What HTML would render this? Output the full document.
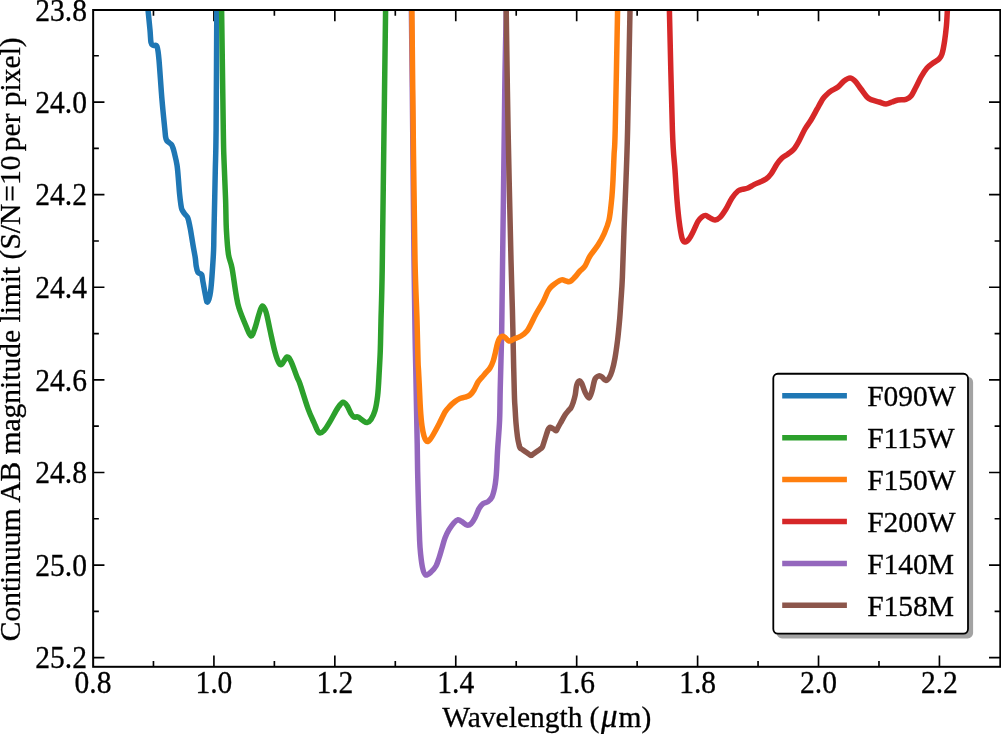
<!DOCTYPE html>
<html><head><meta charset="utf-8"><title>Continuum sensitivity</title>
<style>html,body{margin:0;padding:0;background:#fff;overflow:hidden}svg{display:block}text{font-family:"Liberation Serif","Times New Roman",serif;font-size:29.5px;fill:#000;stroke:#000;stroke-width:0.3px}</style></head><body>
<svg width="1001" height="734" viewBox="0 0 1001 734">
<rect width="1001" height="734" fill="#fff"/>
<defs><clipPath id="ax"><rect x="93.15" y="10.00" width="907.15" height="656.80"/></clipPath></defs>
<path d="M153.46 666.80v-5.70M153.46 10.00v5.70M213.92 666.80v-11.30M213.92 10.00v11.30M274.38 666.80v-5.70M274.38 10.00v5.70M334.84 666.80v-11.30M334.84 10.00v11.30M395.30 666.80v-5.70M395.30 10.00v5.70M455.76 666.80v-11.30M455.76 10.00v11.30M516.22 666.80v-5.70M516.22 10.00v5.70M576.68 666.80v-11.30M576.68 10.00v11.30M637.14 666.80v-5.70M637.14 10.00v5.70M697.60 666.80v-11.30M697.60 10.00v11.30M758.06 666.80v-5.70M758.06 10.00v5.70M818.52 666.80v-11.30M818.52 10.00v11.30M878.98 666.80v-5.70M878.98 10.00v5.70M939.44 666.80v-11.30M939.44 10.00v11.30M93.15 55.77h5.70M1000.30 55.77h-5.70M93.15 102.07h11.30M1000.30 102.07h-11.30M93.15 148.37h5.70M1000.30 148.37h-5.70M93.15 194.67h11.30M1000.30 194.67h-11.30M93.15 240.97h5.70M1000.30 240.97h-5.70M93.15 287.27h11.30M1000.30 287.27h-11.30M93.15 333.57h5.70M1000.30 333.57h-5.70M93.15 379.87h11.30M1000.30 379.87h-11.30M93.15 426.17h5.70M1000.30 426.17h-5.70M93.15 472.47h11.30M1000.30 472.47h-11.30M93.15 518.77h5.70M1000.30 518.77h-5.70M93.15 565.07h11.30M1000.30 565.07h-11.30M93.15 611.37h5.70M1000.30 611.37h-5.70M93.15 657.67h11.30M1000.30 657.67h-11.30" stroke="#000" stroke-width="1.65" fill="none"/>
<g clip-path="url(#ax)" fill="none" stroke-width="5.5" stroke-linejoin="round" stroke-linecap="square">
<path stroke="#9467bd" d="M411.1 -20.0C411.1 -15.0 411.1 -15.0 411.4 10.0C411.7 35.0 412.3 88.3 412.7 130.0C413.1 171.7 413.6 226.7 414.0 260.0C414.4 293.3 414.7 311.7 415.0 330.0C415.3 348.3 415.4 351.2 415.8 370.0C416.1 388.8 416.9 426.3 417.2 443.0C417.5 459.7 417.4 458.8 417.6 470.0C417.8 481.2 418.3 498.3 418.6 510.0C418.9 521.7 419.3 532.7 419.6 540.0C419.9 547.3 420.1 549.3 420.6 554.0C421.1 558.7 421.8 564.5 422.6 568.0C423.4 571.5 424.2 574.3 425.6 575.0C427.0 575.7 429.3 573.5 431.0 572.0C432.7 570.5 434.7 568.3 436.0 566.0C437.3 563.7 438.0 561.0 439.0 558.0C440.0 555.0 441.0 551.3 442.0 548.0C443.0 544.7 443.8 541.0 445.0 538.0C446.2 535.0 447.5 532.2 449.0 529.7C450.5 527.2 452.5 524.4 454.0 522.7C455.5 521.0 456.7 519.9 458.0 519.7C459.3 519.5 460.5 520.8 462.0 521.7C463.5 522.6 465.5 524.8 467.0 525.1C468.5 525.4 469.7 524.9 471.0 523.7C472.3 522.5 473.7 520.2 475.0 517.7C476.3 515.2 477.7 511.0 479.0 508.7C480.3 506.4 481.5 504.9 483.0 503.7C484.5 502.5 486.5 502.7 488.0 501.6C489.5 500.5 490.9 499.3 492.0 497.0C493.1 494.7 493.9 491.2 494.6 488.0C495.3 484.8 495.7 481.0 496.0 478.0C496.3 475.0 496.3 474.7 496.6 470.0C496.9 465.3 497.1 458.3 497.6 450.0C498.1 441.7 499.2 430.0 499.6 420.0C500.0 410.0 499.9 404.0 500.2 390.0C500.5 376.0 501.2 357.7 501.6 336.0C502.0 314.3 502.2 294.3 502.6 260.0C503.1 225.7 503.9 161.2 504.3 130.0C504.7 98.8 504.7 93.0 505.0 73.0C505.3 53.0 506.0 25.5 506.3 10.0C506.6 -5.5 506.8 -15.0 506.9 -20.0"/>
<path stroke="#8c564b" d="M505.7 -20.0C505.8 -15.0 505.8 -15.0 506.2 10.0C506.6 35.0 507.3 88.3 508.1 130.0C508.9 171.7 510.3 230.0 511.0 260.0C511.7 290.0 512.0 295.0 512.4 310.0C512.8 325.0 513.0 335.8 513.3 350.0C513.6 364.2 514.1 385.5 514.4 395.0C514.7 404.5 514.7 402.3 515.0 407.0C515.3 411.7 515.6 418.0 516.0 423.0C516.4 428.0 517.0 433.2 517.5 437.0C518.0 440.8 518.8 443.7 519.2 445.5C519.7 447.3 519.6 447.2 520.2 448.0C520.8 448.8 521.9 449.2 523.0 450.0C524.1 450.8 525.8 452.0 527.0 452.8C528.2 453.6 529.3 454.5 530.0 454.9C530.7 455.3 530.7 455.5 531.2 455.4C531.7 455.3 531.7 455.1 533.0 454.2C534.3 453.3 537.6 451.0 539.0 450.0C540.4 449.0 541.0 448.6 541.6 448.0C542.2 447.4 542.0 448.0 542.6 446.5C543.2 445.0 544.1 441.8 545.0 439.0C545.9 436.2 547.3 431.7 548.0 429.8C548.7 427.9 548.9 428.2 549.3 427.8C549.7 427.4 549.9 427.1 550.6 427.3C551.3 427.5 552.7 428.5 553.5 429.0C554.3 429.5 554.9 430.1 555.4 430.4C555.9 430.7 556.0 431.1 556.4 430.6C556.8 430.1 557.3 428.8 558.0 427.5C558.7 426.2 559.3 425.1 560.5 423.0C561.7 420.9 563.6 417.2 565.0 415.0C566.4 412.8 568.0 411.2 569.0 410.0C570.0 408.8 570.1 409.2 570.8 408.0C571.5 406.8 572.3 405.2 573.0 403.0C573.7 400.8 574.6 398.0 575.2 395.0C575.8 392.0 576.0 387.5 576.7 385.2C577.4 382.9 578.5 381.4 579.3 381.0C580.1 380.6 580.6 381.2 581.6 383.0C582.6 384.8 583.8 389.5 585.0 392.0C586.2 394.5 587.8 398.2 589.0 398.0C590.2 397.8 591.0 394.2 592.0 391.0C593.0 387.8 593.8 381.5 595.0 379.0C596.2 376.5 597.8 376.1 599.0 375.8C600.2 375.5 600.9 376.2 602.0 377.0C603.1 377.8 604.4 380.2 605.6 380.4C606.8 380.6 607.9 379.6 609.0 378.0C610.1 376.4 611.0 374.3 612.0 371.0C613.0 367.7 614.1 363.2 615.0 358.0C615.9 352.8 616.8 346.3 617.6 340.0C618.4 333.7 619.0 326.7 619.6 320.0C620.2 313.3 620.5 307.2 621.0 300.0C621.5 292.8 621.9 288.7 622.4 277.0C622.9 265.3 623.4 246.2 624.0 230.0C624.6 213.8 625.4 196.7 626.0 180.0C626.6 163.3 626.9 158.3 627.6 130.0C628.3 101.7 629.5 35.0 630.0 10.0C630.5 -15.0 630.5 -15.0 630.6 -20.0"/>
<path stroke="#1f77b4" d="M145.1 -20.0C145.6 -15.1 147.2 1.3 148.0 9.6C148.8 17.9 149.5 24.5 150.0 30.0C150.5 35.5 150.5 40.0 151.0 42.5C151.5 45.0 152.2 44.6 153.2 45.3C154.2 46.0 156.0 44.1 157.0 46.6C158.0 49.1 158.2 51.1 159.0 60.0C159.8 68.9 161.0 88.3 162.0 100.0C163.0 111.7 164.3 123.8 164.9 130.0C165.5 136.2 165.3 135.2 165.6 137.0C165.9 138.8 166.2 139.7 166.8 140.6C167.4 141.5 168.4 142.0 169.2 142.7C170.0 143.4 171.0 143.9 171.6 144.8C172.2 145.7 172.5 146.6 173.0 148.0C173.5 149.4 173.8 150.7 174.5 153.5C175.2 156.3 176.3 160.5 177.0 165.0C177.7 169.5 178.1 175.7 178.5 180.5C178.9 185.3 179.2 190.0 179.6 194.0C180.0 198.0 180.5 202.2 180.9 204.7C181.3 207.2 181.2 207.7 181.8 209.2C182.4 210.7 183.5 212.2 184.4 213.5C185.3 214.8 186.7 215.7 187.4 217.0C188.1 218.3 188.3 219.4 188.8 221.5C189.3 223.6 189.7 225.4 190.4 229.3C191.1 233.2 192.2 240.2 193.0 245.0C193.8 249.8 194.8 254.5 195.3 258.0C195.8 261.5 195.8 263.6 196.2 266.0C196.6 268.4 197.1 271.1 198.0 272.5C198.9 273.9 200.8 273.0 201.6 274.6C202.4 276.2 202.3 278.4 203.0 282.0C203.7 285.6 204.9 292.7 205.6 296.0C206.3 299.3 206.4 301.5 207.0 302.0C207.6 302.5 208.4 300.7 209.0 299.0C209.6 297.3 210.0 295.8 210.5 292.0C211.0 288.2 211.5 283.0 212.0 276.0C212.5 269.0 213.3 257.7 213.6 250.0C213.9 242.3 213.7 243.3 214.0 230.0C214.3 216.7 215.0 186.7 215.3 170.0C215.7 153.3 215.8 156.7 216.1 130.0C216.3 103.3 216.7 35.0 216.8 10.0C216.9 -15.0 216.9 -15.0 217.0 -20.0"/>
<path stroke="#2ca02c" d="M221.2 -20.0C221.2 -15.0 221.2 -15.0 221.6 10.0C222.0 35.0 222.9 105.0 223.3 130.0C223.7 155.0 223.6 148.3 224.0 160.0C224.4 171.7 225.2 188.3 225.6 200.0C226.0 211.7 225.9 221.0 226.4 230.0C226.9 239.0 227.5 247.7 228.4 254.0C229.3 260.3 230.7 261.3 232.0 268.0C233.3 274.7 234.8 287.3 236.0 294.0C237.2 300.7 237.3 302.7 239.0 308.0C240.7 313.3 244.0 321.3 246.0 326.0C248.0 330.7 249.5 335.7 251.0 336.0C252.5 336.3 253.7 331.7 255.0 328.0C256.3 324.3 257.8 317.7 259.0 314.0C260.2 310.3 261.2 306.3 262.4 306.0C263.6 305.7 264.7 308.0 266.0 312.0C267.3 316.0 268.5 323.3 270.0 330.0C271.5 336.7 273.5 346.5 275.0 352.0C276.5 357.5 277.8 361.0 279.0 363.0C280.2 365.0 280.7 365.0 282.0 364.0C283.3 363.0 285.5 357.4 287.0 357.0C288.5 356.6 289.3 358.2 291.0 361.5C292.7 364.8 295.5 373.2 297.0 377.0C298.5 380.8 298.2 378.7 300.0 384.0C301.8 389.3 305.7 402.2 308.0 408.6C310.3 415.0 312.2 418.6 314.0 422.6C315.8 426.6 317.3 431.3 319.0 432.6C320.7 433.9 322.2 432.4 324.0 430.6C325.8 428.8 327.7 425.4 330.0 421.6C332.3 417.8 335.8 410.8 338.0 407.6C340.2 404.4 341.5 402.5 343.0 402.2C344.5 401.9 345.7 403.7 347.0 405.6C348.3 407.5 349.8 411.7 351.0 413.6C352.2 415.5 352.8 416.4 354.0 417.0C355.2 417.6 356.5 416.4 358.0 417.0C359.5 417.6 361.5 419.7 363.0 420.6C364.5 421.5 365.7 422.8 367.0 422.6C368.3 422.4 369.7 421.6 371.0 419.6C372.3 417.6 373.9 414.5 375.0 410.6C376.1 406.7 376.9 401.8 377.6 396.0C378.3 390.2 378.6 383.7 379.0 376.0C379.4 368.3 380.0 359.3 380.3 350.0C380.6 340.7 380.7 333.3 381.0 320.0C381.3 306.7 381.7 301.7 382.2 270.0C382.7 238.3 383.4 173.3 384.0 130.0C384.6 86.7 385.3 35.0 385.6 10.0C385.9 -15.0 385.9 -15.0 386.0 -20.0"/>
<path stroke="#ff7f0e" d="M411.6 -20.0C411.6 -15.0 411.6 -17.8 411.9 10.0C412.2 37.8 412.9 105.3 413.4 147.0C413.9 188.7 414.4 231.2 415.0 260.0C415.6 288.8 416.5 303.3 417.0 320.0C417.5 336.7 417.8 351.7 418.0 360.0C418.2 368.3 418.2 365.0 418.5 370.0C418.8 375.0 419.2 383.3 419.5 390.0C419.8 396.7 420.1 404.0 420.5 410.0C420.9 416.0 421.4 421.7 422.0 426.0C422.6 430.3 423.3 433.6 424.0 436.0C424.7 438.4 425.4 439.6 426.0 440.5C426.6 441.4 427.1 441.7 427.8 441.5C428.5 441.3 429.1 440.6 430.0 439.5C430.9 438.4 431.5 437.6 433.0 435.0C434.5 432.4 437.0 427.8 439.0 424.0C441.0 420.2 443.2 415.0 445.0 412.0C446.8 409.0 448.3 407.8 450.0 406.0C451.7 404.2 453.3 402.8 455.0 401.5C456.7 400.2 458.3 399.2 460.0 398.5C461.7 397.8 463.3 397.8 465.0 397.2C466.7 396.6 468.5 396.2 470.0 395.0C471.5 393.8 472.7 392.2 474.0 390.0C475.3 387.8 476.7 384.1 478.0 382.0C479.3 379.9 480.7 378.9 482.0 377.3C483.3 375.7 484.7 374.2 486.0 372.6C487.3 371.1 488.8 369.9 490.0 368.0C491.2 366.1 492.3 363.7 493.2 361.0C494.1 358.3 494.8 355.0 495.5 352.0C496.2 349.0 496.9 345.3 497.6 343.0C498.3 340.7 498.9 339.4 499.6 338.3C500.3 337.2 500.9 336.6 501.8 336.4C502.7 336.2 503.6 336.4 504.8 337.2C506.0 338.0 507.5 340.7 509.0 341.0C510.5 341.3 512.0 339.8 514.0 339.0C516.0 338.2 518.8 337.3 521.0 336.0C523.2 334.7 525.3 333.0 527.0 331.0C528.7 329.0 529.5 326.8 531.0 324.0C532.5 321.2 534.0 317.7 536.0 314.0C538.0 310.3 541.0 305.8 543.0 302.0C545.0 298.2 546.5 293.7 548.0 291.0C549.5 288.3 549.8 287.8 552.0 286.0C554.2 284.2 558.7 280.8 561.0 280.0C563.3 279.2 564.5 280.7 566.0 281.0C567.5 281.3 568.5 282.3 570.0 281.6C571.5 280.9 573.3 278.8 575.0 277.0C576.7 275.2 578.3 272.8 580.0 271.0C581.7 269.2 583.3 268.5 585.0 266.0C586.7 263.5 587.8 259.5 590.0 256.0C592.2 252.5 595.7 248.7 598.0 245.0C600.3 241.3 602.2 238.2 604.0 234.0C605.8 229.8 607.7 225.7 609.0 220.0C610.3 214.3 610.9 206.7 611.6 200.0C612.3 193.3 612.6 187.7 613.0 180.0C613.4 172.3 613.7 162.3 614.1 154.0C614.5 145.7 614.6 154.0 615.2 130.0C615.8 106.0 617.1 35.0 617.6 10.0C618.1 -15.0 618.1 -15.0 618.2 -20.0"/>
<path stroke="#d62728" d="M668.6 -20.0C668.8 -15.0 668.8 -15.0 669.4 10.0C670.0 35.0 671.5 103.3 672.4 130.0C673.3 156.7 674.2 158.3 675.0 170.0C675.8 181.7 676.3 191.7 677.0 200.0C677.7 208.3 678.2 213.7 679.0 220.0C679.8 226.3 681.0 234.3 682.0 238.0C683.0 241.7 683.8 241.8 685.0 242.0C686.2 242.2 687.7 240.7 689.0 239.0C690.3 237.3 691.5 234.9 693.0 232.0C694.5 229.1 696.5 223.9 698.0 221.4C699.5 218.9 700.7 217.9 702.0 216.9C703.3 215.9 704.3 215.2 705.6 215.4C706.9 215.6 708.4 217.1 710.0 217.9C711.6 218.7 713.3 220.1 715.0 220.0C716.7 219.9 718.2 219.2 720.0 217.4C721.8 215.6 724.0 212.2 726.0 209.0C728.0 205.8 730.0 201.0 732.0 198.0C734.0 195.0 736.3 192.4 738.0 191.0C739.7 189.6 740.3 189.9 742.0 189.4C743.7 188.9 746.0 188.8 748.0 188.0C750.0 187.2 752.0 185.6 754.0 184.6C756.0 183.6 758.0 182.9 760.0 182.0C762.0 181.1 764.2 180.3 766.0 179.0C767.8 177.7 769.2 176.5 771.0 174.0C772.8 171.5 775.2 166.7 777.0 164.0C778.8 161.3 780.2 159.7 782.0 158.0C783.8 156.3 786.0 155.5 788.0 154.0C790.0 152.5 792.2 151.2 794.0 149.0C795.8 146.8 797.2 144.3 799.0 141.0C800.8 137.7 803.0 132.5 805.0 129.0C807.0 125.5 809.0 123.3 811.0 120.0C813.0 116.7 815.0 112.8 817.0 109.2C819.0 105.6 821.2 101.2 823.0 98.6C824.8 96.0 826.7 94.7 828.0 93.4C829.3 92.1 829.3 92.1 831.0 91.0C832.7 89.9 835.8 88.7 838.0 87.0C840.2 85.3 842.0 82.5 844.0 81.0C846.0 79.5 848.2 78.0 850.0 78.0C851.8 78.0 853.2 79.2 855.0 81.0C856.8 82.8 859.0 86.3 861.0 89.0C863.0 91.7 865.3 95.2 867.0 97.0C868.7 98.8 869.0 98.8 871.0 99.6C873.0 100.4 876.5 101.3 879.0 102.0C881.5 102.7 883.8 104.0 886.0 104.0C888.2 104.0 890.0 102.7 892.0 102.0C894.0 101.3 895.7 100.4 898.0 100.0C900.3 99.6 903.8 100.1 906.0 99.4C908.2 98.7 909.3 98.1 911.0 96.0C912.7 93.9 914.3 90.2 916.0 87.0C917.7 83.8 919.2 80.2 921.0 77.0C922.8 73.8 925.0 70.3 927.0 68.0C929.0 65.7 931.0 64.5 933.0 63.0C935.0 61.5 937.5 60.5 939.0 59.0C940.5 57.5 941.1 57.0 942.0 54.0C942.9 51.0 943.9 45.7 944.6 41.0C945.3 36.3 945.9 31.2 946.4 26.0C946.9 20.8 946.9 17.7 947.4 10.0C947.9 2.3 949.0 -15.0 949.3 -20.0"/>
</g>
<rect x="93.15" y="10.00" width="907.15" height="656.80" fill="none" stroke="#000" stroke-width="2"/>
<g text-anchor="middle">
<text transform="translate(93.00,693.3) scale(1,1.035)" font-size="30.3">0.8</text>
<text transform="translate(213.92,693.3) scale(1,1.035)" font-size="30.3">1.0</text>
<text transform="translate(334.84,693.3) scale(1,1.035)" font-size="30.3">1.2</text>
<text transform="translate(455.76,693.3) scale(1,1.035)" font-size="30.3">1.4</text>
<text transform="translate(576.68,693.3) scale(1,1.035)" font-size="30.3">1.6</text>
<text transform="translate(697.60,693.3) scale(1,1.035)" font-size="30.3">1.8</text>
<text transform="translate(818.52,693.3) scale(1,1.035)" font-size="30.3">2.0</text>
<text transform="translate(939.44,693.3) scale(1,1.035)" font-size="30.3">2.2</text>
</g><g text-anchor="end">
<text transform="translate(86.9,21.17) scale(1,1.05)" font-size="30.9">23.8</text>
<text transform="translate(86.9,112.77) scale(1,1.05)" font-size="30.9">24.0</text>
<text transform="translate(86.9,205.37) scale(1,1.05)" font-size="30.9">24.2</text>
<text transform="translate(86.9,297.97) scale(1,1.05)" font-size="30.9">24.4</text>
<text transform="translate(86.9,390.57) scale(1,1.05)" font-size="30.9">24.6</text>
<text transform="translate(86.9,483.17) scale(1,1.05)" font-size="30.9">24.8</text>
<text transform="translate(86.9,575.77) scale(1,1.05)" font-size="30.9">25.0</text>
<text transform="translate(86.9,668.37) scale(1,1.05)" font-size="30.9">25.2</text>
</g>
<text x="442.3" y="727.2" font-size="28.85">Wavelength</text>
<text x="589.6" y="727.2">(<tspan font-style="italic" font-size="33" dx="1.6">μ</tspan><tspan dx="0.9">m)</tspan></text>
<text transform="translate(20,641.3) rotate(-90)">Continuum AB magnitude limit (S/N<tspan dx="2">=10</tspan> <tspan dx="-3">per</tspan> pixel)</text>
<rect x="777.50" y="377.65" width="194.70" height="259.85" rx="4.5" fill="#a3a3a3" stroke="#a3a3a3" stroke-width="1.8"/>
<rect x="773.30" y="373.75" width="194.70" height="259.85" rx="4.5" fill="#fff" stroke="#000" stroke-width="1.8"/>
<path d="M782.2 395.70H846.9" stroke="#1f77b4" stroke-width="5.5" fill="none"/>
<text x="867.2" y="406.20">F090W</text>
<path d="M782.2 437.63H846.9" stroke="#2ca02c" stroke-width="5.5" fill="none"/>
<text x="867.2" y="448.13">F115W</text>
<path d="M782.2 479.56H846.9" stroke="#ff7f0e" stroke-width="5.5" fill="none"/>
<text x="867.2" y="490.06">F150W</text>
<path d="M782.2 521.49H846.9" stroke="#d62728" stroke-width="5.5" fill="none"/>
<text x="867.2" y="531.99">F200W</text>
<path d="M782.2 563.42H846.9" stroke="#9467bd" stroke-width="5.5" fill="none"/>
<text x="867.2" y="573.92">F140M</text>
<path d="M782.2 605.35H846.9" stroke="#8c564b" stroke-width="5.5" fill="none"/>
<text x="867.2" y="615.85">F158M</text>
</svg></body></html>
